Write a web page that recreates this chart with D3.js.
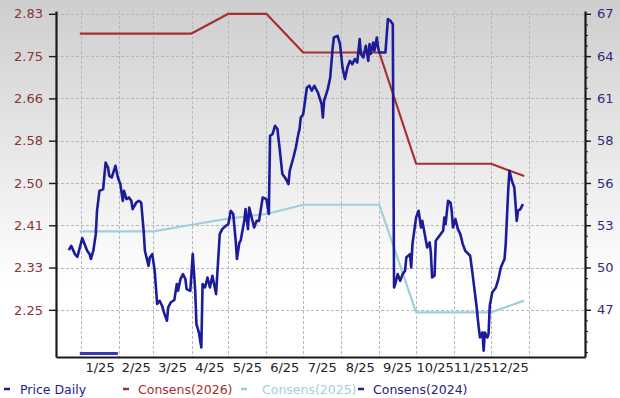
<!DOCTYPE html>
<html lang="en">
<head>
<meta charset="UTF-8">
<title>Price and Consensus Chart</title>
<script src="https://cdn.jsdelivr.net/npm/d3@7"></script>
<style>
  body { margin: 0; }
  svg { display: block; font-family: "DejaVu Sans", Verdana, sans-serif; }
</style>
</head>
<body>
<svg id="chart" width="620" height="398"></svg>
<script>
// daily price (right axis)
const priceDates = [
  "2024-12-22","2024-12-24","2024-12-27","2024-12-29","2025-01-02","2025-01-06","2025-01-08","2025-01-09","2025-01-11","2025-01-13",
  "2025-01-14","2025-01-16","2025-01-19","2025-01-21","2025-01-23","2025-01-24","2025-01-26","2025-01-29","2025-01-31","2025-02-02",
  "2025-02-04","2025-02-05","2025-02-07","2025-02-09","2025-02-11","2025-02-12","2025-02-15","2025-02-17","2025-02-19","2025-02-21",
  "2025-02-22","2025-02-25","2025-02-26","2025-02-28","2025-03-02","2025-03-04","2025-03-06","2025-03-08","2025-03-10","2025-03-12",
  "2025-03-13","2025-03-15","2025-03-18","2025-03-20","2025-03-21","2025-03-23","2025-03-25","2025-03-27","2025-03-28","2025-03-31",
  "2025-04-02","2025-04-04","2025-04-05","2025-04-07","2025-04-09","2025-04-10","2025-04-12","2025-04-14","2025-04-16","2025-04-18",
  "2025-04-21","2025-04-24","2025-04-26","2025-04-29","2025-05-01","2025-05-03","2025-05-05","2025-05-07","2025-05-08","2025-05-10",
  "2025-05-11","2025-05-14","2025-05-15","2025-05-17","2025-05-18","2025-05-20","2025-05-22","2025-05-24","2025-05-26","2025-05-29",
  "2025-06-01","2025-06-03","2025-06-04","2025-06-06","2025-06-08","2025-06-10","2025-06-12","2025-06-14","2025-06-17","2025-06-19",
  "2025-06-20","2025-06-23","2025-06-25","2025-06-27","2025-06-28","2025-06-29","2025-07-01","2025-07-04","2025-07-06","2025-07-08",
  "2025-07-10","2025-07-13","2025-07-16","2025-07-17","2025-07-18","2025-07-21","2025-07-23","2025-07-25","2025-07-26","2025-07-29",
  "2025-07-31","2025-08-02","2025-08-04","2025-08-06","2025-08-08","2025-08-10","2025-08-12","2025-08-14","2025-08-16","2025-08-17",
  "2025-08-19","2025-08-21","2025-08-23","2025-08-24","2025-08-25","2025-08-27","2025-08-28","2025-08-30","2025-08-31","2025-09-01",
  "2025-09-04","2025-09-06","2025-09-08","2025-09-10","2025-09-12","2025-09-13","2025-09-14","2025-09-16","2025-09-18","2025-09-20",
  "2025-09-22","2025-09-23","2025-09-26","2025-09-27","2025-09-28","2025-10-01","2025-10-03","2025-10-05","2025-10-06","2025-10-09",
  "2025-10-10","2025-10-12","2025-10-13","2025-10-14","2025-10-16","2025-10-17","2025-10-20","2025-10-23","2025-10-24","2025-10-25",
  "2025-10-27","2025-10-29","2025-10-30","2025-10-31","2025-11-02","2025-11-04","2025-11-06","2025-11-08","2025-11-10","2025-11-14",
  "2025-11-16","2025-11-19","2025-11-21","2025-11-22","2025-11-24","2025-11-25","2025-11-26","2025-11-28","2025-11-29","2025-11-30",
  "2025-12-02","2025-12-05","2025-12-07","2025-12-09","2025-12-12","2025-12-13","2025-12-15","2025-12-16","2025-12-18","2025-12-20",
  "2025-12-21","2025-12-22","2025-12-23","2025-12-25","2025-12-27"
];
const priceValues = [
  51.03,51.32,50.76,50.58,51.84,50.99,50.76,50.43,50.99,52.11,
  53.69,55.04,55.16,56.95,56.61,56.05,55.94,56.73,55.94,55.49,
  54.36,55.04,54.48,54.59,54.36,53.80,54.25,54.36,54.25,52.34,
  50.99,49.97,50.53,50.76,49.64,47.39,47.61,47.27,46.71,46.26,
  47.16,47.49,47.66,48.74,48.28,49.07,49.41,49.07,48.40,48.28,
  50.76,48.28,46.03,45.47,44.45,48.74,48.51,49.18,48.51,49.30,
  48.06,52.11,52.45,52.68,52.79,53.69,53.47,51.66,50.43,51.55,
  51.66,53.01,53.80,52.45,53.91,53.24,52.56,53.01,53.01,54.59,
  54.48,53.47,58.76,58.87,59.43,59.21,57.74,56.17,55.83,55.49,
  56.39,57.29,57.97,58.87,59.21,59.99,60.22,62.02,62.14,61.80,
  62.14,61.68,60.90,59.99,61.12,61.91,62.70,64.72,65.40,65.51,
  64.95,63.37,62.59,63.37,63.82,63.60,63.94,63.71,65.29,64.28,
  64.05,64.84,63.82,64.95,64.28,65.06,64.50,65.40,64.72,64.39,
  64.39,64.39,66.64,66.53,66.30,48.51,48.74,49.41,48.96,49.41,
  49.64,50.53,50.76,49.86,51.44,53.24,53.69,52.56,53.01,51.66,
  51.21,51.55,50.87,49.18,49.30,51.66,52.00,52.34,53.24,52.79,
  54.36,54.25,53.69,52.56,53.13,52.45,52.11,51.44,50.99,50.65,
  49.41,47.39,45.80,45.13,45.47,44.23,45.47,45.13,45.36,47.27,
  48.17,48.51,49.07,49.86,50.43,51.44,55.04,56.39,55.72,55.26,
  54.14,53.01,53.69,53.80,54.14
];

// consensus EPS estimates (left axis)
const consDates = ["2024-12-31","2025-02-01","2025-03-01","2025-04-01","2025-05-01","2025-06-01","2025-07-01",
                   "2025-08-01","2025-09-01","2025-10-01","2025-11-01","2025-12-01","2025-12-28"];
const cons2026 = [2.789,2.789,2.789,2.789,2.8275,2.8275,2.752,2.752,2.752,2.535,2.535,2.535,2.511];
const cons2025 = [2.403,2.403,2.403,2.416,2.428,2.437,2.455,2.455,2.455,2.245,2.245,2.245,2.268];
const cons2024Dates = ["2024-12-31","2025-01-31"];
const cons2024 = [2.165,2.165];

// axis ticks
const leftTickValues = [2.25,2.3325,2.415,2.4975,2.58,2.6625,2.745,2.8275];
const leftTickLabels = ["2.25","2.33","2.41","2.50","2.58","2.66","2.75","2.83"];
const rightTickValues = [47,49.857,52.714,55.571,58.429,61.286,64.143,67];
const rightTickLabels = ["47","50","53","56","58","61","64","67"];
const monthLabels = ["1/25","2/25","3/25","4/25","5/25","6/25","7/25","8/25","9/25","10/25","11/25","12/25"];

const legendItems = [
  { name: "Price Daily", color: "#1c1c9a" },
  { name: "Consens(2026)", color: "#a53030" },
  { name: "Consens(2025)", color: "#9fcfdc" },
  { name: "Consens(2024)", color: "#23237a" }
];

const W = 620, H = 398;
const plot = { left: 56, right: 585, top: 11, bottom: 357 };
const parse = d3.utcParse("%Y-%m-%d");

const svg = d3.select("#chart");

// background gradient
const defs = svg.append("defs");
const grad = defs.append("linearGradient").attr("id", "bg").attr("x1", 0).attr("y1", 0).attr("x2", 0).attr("y2", 1);
grad.append("stop").attr("offset", "0%").attr("stop-color", "#cecece");
grad.append("stop").attr("offset", "72%").attr("stop-color", "#ffffff");
svg.append("rect").attr("width", W).attr("height", H).attr("fill", "url(#bg)");

defs.append("clipPath").attr("id", "clip")
  .append("rect")
  .attr("x", plot.left).attr("y", plot.top)
  .attr("width", plot.right - plot.left).attr("height", plot.bottom - plot.top);

// scales
const x = d3.scaleUtc()
  .domain([new Date(Date.UTC(2024, 11, 11, 14)), new Date(Date.UTC(2026, 1, 15, 14))])
  .range([plot.left, plot.right]);

const yLeft = d3.scaleLinear().domain([2.158, 2.833]).range([plot.bottom, plot.top]);
const yRight = d3.scaleLinear().domain([43.81, 67.19]).range([plot.bottom, plot.top]);

// grid
const monthStarts = d3.utcMonth.range(new Date(Date.UTC(2025, 0, 1)), new Date(Date.UTC(2026, 0, 2)));
const grid = svg.append("g")
  .attr("stroke", "#b8b8b8")
  .attr("stroke-width", 1)
  .attr("stroke-dasharray", "3,2");

grid.selectAll(".hgrid")
  .data(leftTickValues)
  .enter()
  .append("line")
  .attr("x1", plot.left).attr("x2", plot.right)
  .attr("y1", d => Math.round(yLeft(d)) + 0.5)
  .attr("y2", d => Math.round(yLeft(d)) + 0.5);

grid.selectAll(".vgrid")
  .data(monthStarts)
  .enter()
  .append("line")
  .attr("x1", d => Math.round(x(d)) + 0.5)
  .attr("x2", d => Math.round(x(d)) + 0.5)
  .attr("y1", plot.top).attr("y2", plot.bottom);

// lines
const chartArea = svg.append("g").attr("clip-path", "url(#clip)");

function drawLine(dates, values, scale, color, width) {
  const pts = dates.map((d, i) => [parse(d), values[i]]);
  chartArea.append("path")
    .datum(pts)
    .attr("fill", "none")
    .attr("stroke", color)
    .attr("stroke-width", width)
    .attr("stroke-linejoin", "round")
    .attr("d", d3.line().x(d => x(d[0])).y(d => scale(d[1])));
}

drawLine(consDates, cons2025, yLeft, "#9fcfdc", 2.2);
drawLine(consDates, cons2026, yLeft, "#a53030", 2.2);
drawLine(cons2024Dates, cons2024, yLeft, "#3a3aae", 3);
drawLine(priceDates, priceValues, yRight, "#1c1c9a", 2.6);

// axes
const leftAxis = svg.append("g")
  .attr("transform", `translate(${plot.left},0)`)
  .call(d3.axisLeft(yLeft)
    .tickValues(leftTickValues)
    .tickFormat((d, i) => leftTickLabels[i])
    .tickSize(7)
    .tickPadding(6)
    .tickSizeOuter(0));

const rightAxis = svg.append("g")
  .attr("transform", `translate(${plot.right},0)`)
  .call(d3.axisRight(yRight)
    .tickValues(rightTickValues)
    .tickFormat((d, i) => rightTickLabels[i])
    .tickSize(6)
    .tickPadding(6)
    .tickSizeOuter(0));

const minorTicks = [];
for (let v = 67; v >= yRight.domain()[0]; v -= 5 / 7) minorTicks.push(v);
svg.append("g")
  .attr("transform", `translate(${plot.right},0)`)
  .call(d3.axisRight(yRight).tickValues(minorTicks).tickFormat("").tickSize(3).tickSizeOuter(0))
  .call(g => g.select(".domain").remove());

const bottomAxis = svg.append("g")
  .attr("transform", `translate(0,${plot.bottom})`)
  .call(d3.axisBottom(x).tickValues([]).tickSizeOuter(0));

[leftAxis, rightAxis, bottomAxis].forEach(g => {
  g.select(".domain").attr("stroke", "#1a1a1a").attr("stroke-width", 2.2);
  g.selectAll(".tick line").attr("stroke", "#1a1a1a").attr("stroke-width", 1.4);
});
svg.selectAll(".tick line").attr("stroke", "#1a1a1a");

leftAxis.selectAll(".tick text")
  .attr("fill", "#8b3434")
  .style("font-size", "13px");
rightAxis.selectAll(".tick text")
  .attr("fill", "#2b2b7c")
  .style("font-size", "13px");
svg.selectAll(".tick text").style("font-family", '"DejaVu Sans", Verdana, sans-serif');

// month labels, centered in each month
svg.append("g").selectAll("text")
  .data(monthStarts.slice(0, 12))
  .enter()
  .append("text")
  .attr("x", d => (x(d) + x(d3.utcMonth.offset(d, 1))) / 2)
  .attr("y", 372)
  .attr("text-anchor", "middle")
  .attr("fill", "#222")
  .style("font-size", "13px")
  .text((d, i) => monthLabels[i]);

// legend
const legendX = [4, 123, 241, 358];
const legend = svg.append("g").selectAll("g")
  .data(legendItems)
  .enter()
  .append("g")
  .attr("transform", (d, i) => `translate(${legendX[i]},389)`);

legend.append("line")
  .attr("x1", 0).attr("x2", 6)
  .attr("stroke", d => d.color)
  .attr("stroke-width", 2.5);

legend.append("text")
  .attr("x", (d, i) => i === 2 ? 21 : (i === 0 ? 16 : 15))
  .attr("y", 4.5)
  .attr("fill", d => d.color)
  .style("font-size", "12.5px")
  .text(d => d.name);
</script>
</body>
</html>
